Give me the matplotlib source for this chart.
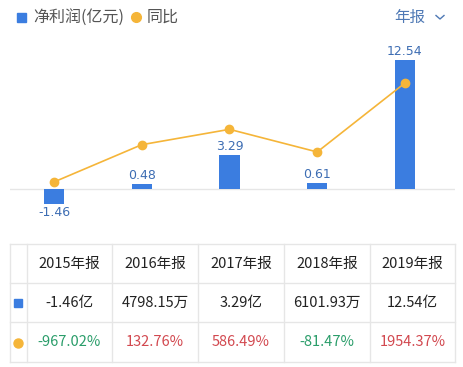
import matplotlib.pyplot as plt

plt.rcParams['font.family'] = ['Noto Sans CJK SC', 'DejaVu Sans']

# data
years = ['2015年报', '2016年报', '2017年报', '2018年报', '2019年报']
profit = [-1.46, 0.48, 3.29, 0.61, 12.54]          # 亿元
yoy = [-967.02, 132.76, 586.49, -81.47, 1954.37]   # %
profit_txt = ['-1.46亿', '4798.15万', '3.29亿', '6101.93万', '12.54亿']
yoy_txt = ['-967.02%', '132.76%', '586.49%', '-81.47%', '1954.37%']

BLUE = '#3b7de0'
ORANGE = '#f5b539'
LABEL = '#3d6db3'
GREEN = '#2a9d6a'
RED = '#d2484f'
GRID = '#e6e6e6'

W, H = 463, 367
fig = plt.figure(figsize=(W / 100, H / 100), dpi=100)

# overlay axes in pixel coords for legend + table
ov = fig.add_axes([0, 0, 1, 1])
ov.set_xlim(0, W)
ov.set_ylim(H, 0)
ov.axis('off')

# legend
ov.add_patch(plt.Rectangle((17, 12.5), 9, 9, color=BLUE))
ov.text(33, 17, '净利润(亿元)', fontsize=11.5, color='#555555', va='center', ha='left')
ov.plot([135.5], [17], 'o', color=ORANGE, markersize=7)
ov.text(147, 17, '同比', fontsize=11.5, color='#555555', va='center', ha='left')
ov.text(425.5, 17, '年报', fontsize=11.2, color='#4f79b5', va='center', ha='right')
ov.plot([436, 440, 444], [15.5, 19, 15.5], color='#4f79b5', lw=1.0)

# chart
ax = fig.add_axes([10 / W, 1 - 215 / H, 445 / W, 160 / H])
x = list(range(len(years)))
ax.bar(x, profit, width=0.23, color=BLUE, zorder=2)
ax.axhline(0, color=GRID, lw=1, zorder=1)
ax.set_xlim(-0.501, 4.57)
ax.set_ylim(-2.53, 13.02)
ax.axis('off')
for xi, v in zip(x, profit):
    if v >= 0:
        ax.text(xi, v + 0.2, f'{v:.2f}', ha='center', va='bottom', fontsize=9,
                color=LABEL, family='DejaVu Sans')
    else:
        ax.text(xi, v - 0.2, f'{v:.2f}', ha='center', va='top', fontsize=9,
                color=LABEL, family='DejaVu Sans')

ax2 = ax.twinx()
ax2.plot(x, yoy, color=ORANGE, lw=1.2, marker='o', markersize=6, zorder=3)
ax2.set_ylim(-1941.6, 2780)
ax2.axis('off')

# table
row_y = [244, 283, 322, 362]
col_x = [10, 27, 112, 198, 284, 370, 455]
for yy in row_y:
    ov.plot([col_x[0], col_x[-1]], [yy, yy], color=GRID, lw=1)
for xx in col_x:
    ov.plot([xx, xx], [row_y[0], row_y[-1]], color=GRID, lw=1)

centers = [(col_x[i] + col_x[i + 1]) / 2 for i in range(1, 6)]
rc = [(row_y[i] + row_y[i + 1]) / 2 for i in range(3)]
for cx, yr, pt, yt, yv in zip(centers, years, profit_txt, yoy_txt, yoy):
    ov.text(cx, rc[0], yr, ha='center', va='center', fontsize=10.5, color='#222222')
    ov.text(cx, rc[1], pt, ha='center', va='center', fontsize=10.5, color='#222222')
    ov.text(cx, rc[2], yt, ha='center', va='center', fontsize=10.5,
            color=GREEN if yv < 0 else RED)

ov.add_patch(plt.Rectangle((14, 299), 8, 8, color=BLUE))
ov.plot([18], [342.5], 'o', color=ORANGE, markersize=6.5)

fig.savefig('out.png', dpi=100)
